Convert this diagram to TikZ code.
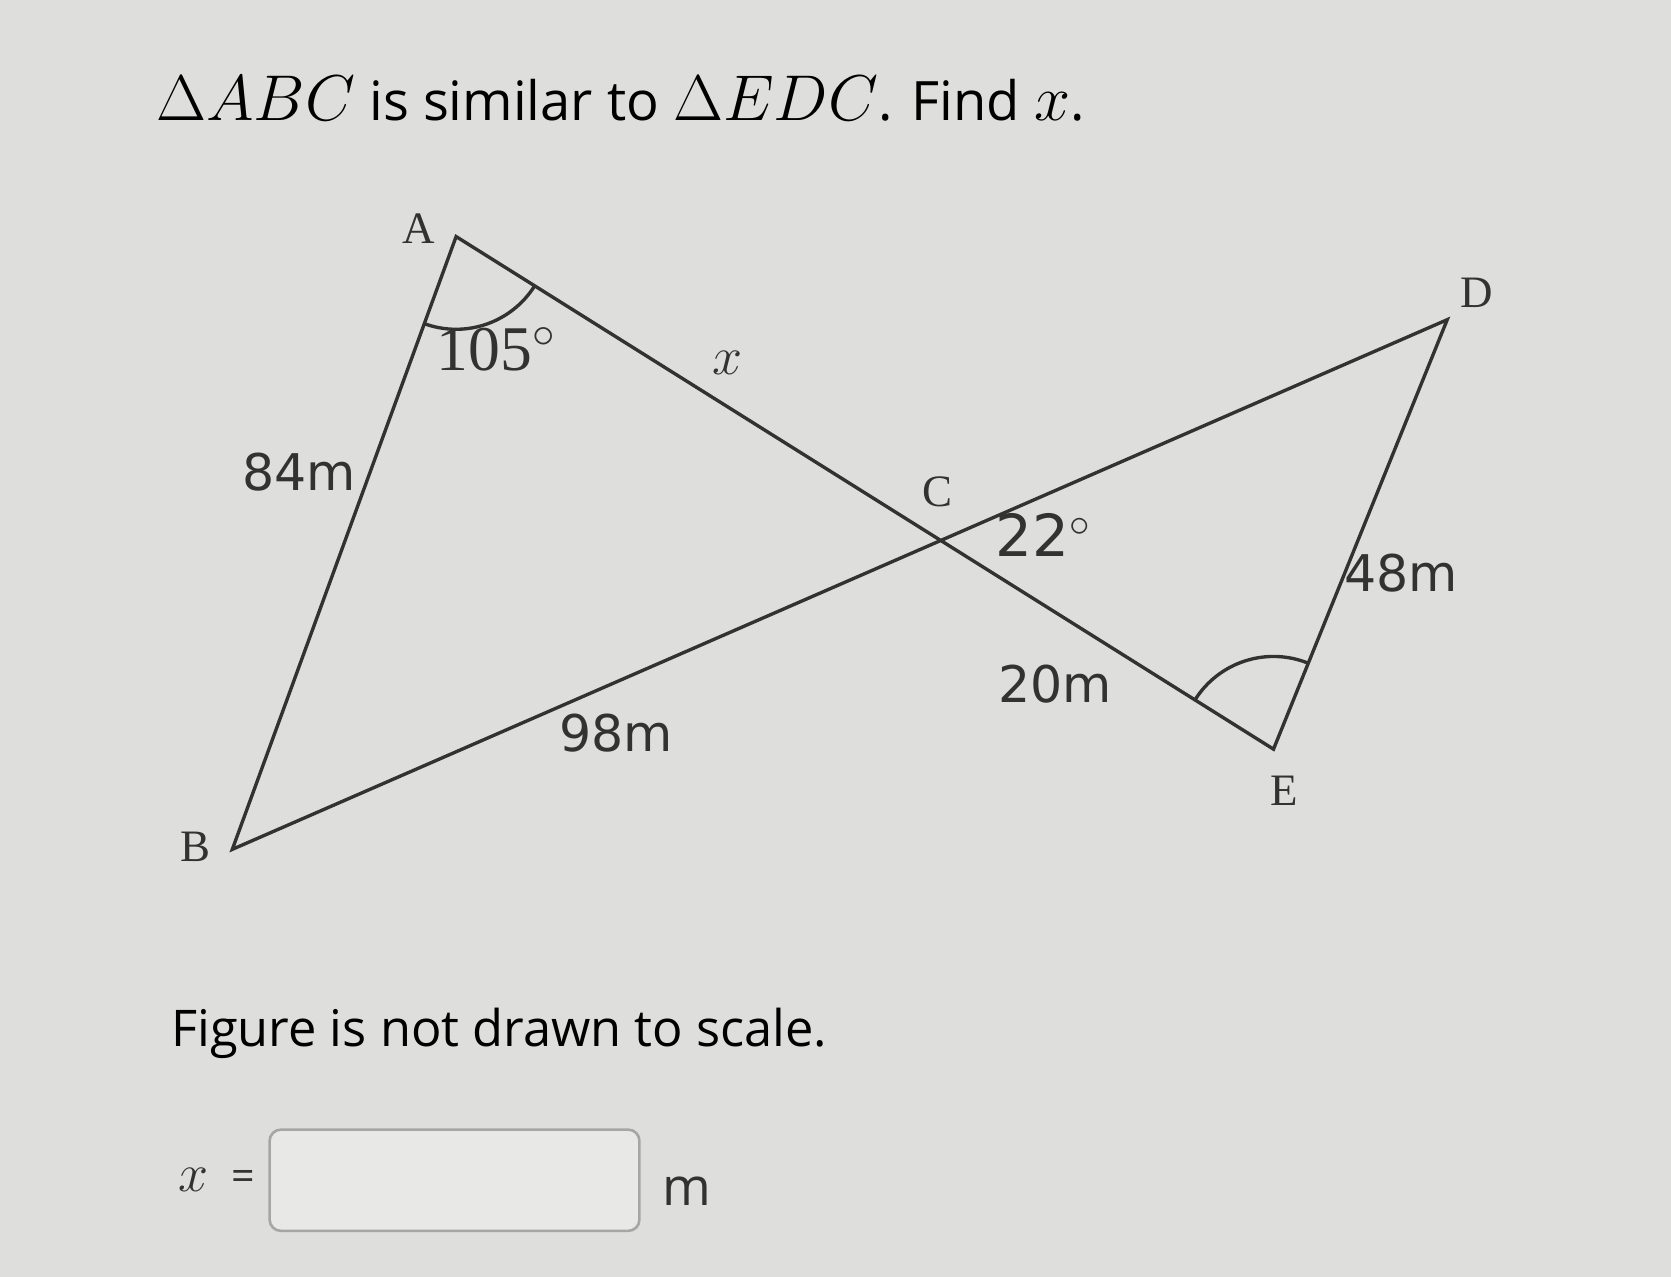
\documentclass[tikz,border=0pt]{standalone}
\usepackage{fontspec}
\setmainfont{Open Sans}
\newfontfamily\vtxfont{Liberation Serif}
\newfontfamily\lenfont{DejaVu Sans}
\usetikzlibrary{angles,positioning}
\definecolor{paper}{RGB}{222,222,220}
\definecolor{ink}{RGB}{50,50,50}
\newcommand{\txt}[1]{{\fontsize{14.5}{17}\selectfont #1}}
\begin{document}
\begin{tikzpicture}[
        side/.style={draw=ink, line width=0.9pt},
        vtx/.style={font=\vtxfont\fontsize{12}{14}\selectfont, text=ink},
        len/.style={font=\lenfont\fontsize{13.5}{16}\selectfont, text=ink},
        anglemark/.style={draw=ink, line width=0.9pt, angle radius=0.87cm}
    ]
    \fill[paper] (0,0) rectangle (15.68,11.98);
    \useasboundingbox (0,0) rectangle (15.68,11.98);

    \node[anchor=west, inner sep=0, font=\fontsize{17.28}{20}\selectfont] (title) at (1.46,11.05)
        {$\Delta ABC$\txt{ is similar to }$\Delta EDC$\txt{. Find }$x$\txt{.}};

    \coordinate (A) at (4.28,9.76);
    \coordinate (B) at (2.18,4.01);
    \coordinate (D) at (13.58,8.98);
    \coordinate (E) at (11.95,4.95);
    \coordinate (C) at (intersection of A--E and B--D);

    \path[side] (A) -- (B) -- (C) -- (D) -- (E) -- (C) -- cycle;
    \pic[anglemark] {angle=B--A--C};
    \pic[anglemark] {angle=D--E--C};

    \node[vtx] (labA) at (3.93,9.83) {A};
    \node[vtx] (labB) at (1.83,4.03) {B};
    \node[vtx] (labC) at (8.80,7.36) {C};
    \node[vtx] (labD) at (13.86,9.23) {D};
    \node[vtx] (labE) at (12.05,4.56) {E};

    \node[text=ink, font=\vtxfont\fontsize{17}{19}\selectfont] (angA) at (4.66,8.70) {105$^{\circ}$};
    \node[len, font=\lenfont\fontsize{15.5}{18}\selectfont] (angC) at (9.79,6.96) {22$^{\circ}$};
    \node[text=ink, font=\fontsize{15}{17}\selectfont] (sideAC) at (6.83,8.57) {$x$};
    \node[len] (sideAB) at (2.81,7.55) {84m};
    \node[len] (sideDE) at (13.15,6.60) {48m};
    \node[len] (sideCE) at (9.90,5.56) {20m};
    \node[len] (sideBC) at (5.78,5.10) {98m};

    \node[anchor=west, inner sep=0, font=\fontsize{13.5}{16}\selectfont] (note) at (1.60,2.28)
        {Figure is not drawn to scale.};

    \node[draw=gray!70, line width=0.7pt, rounded corners=3pt, fill=paper!70!white,
          minimum width=3.47cm, minimum height=0.95cm] (ansbox) at (4.265,0.905) {};
    \node[left=0.12cm of ansbox.west, inner sep=0, text=ink, font=\fontsize{11}{13}\selectfont] (anseq) {=};
    \node[left=0.2cm of anseq.west, inner sep=0, text=ink, font=\fontsize{15}{17}\selectfont] (ansx) {$x$};
    \node[right=0.2cm of ansbox.east, inner sep=0, yshift=-0.1cm, text=ink, font=\fontsize{14}{17}\selectfont] (ansm) {m};
\end{tikzpicture}
\end{document}
